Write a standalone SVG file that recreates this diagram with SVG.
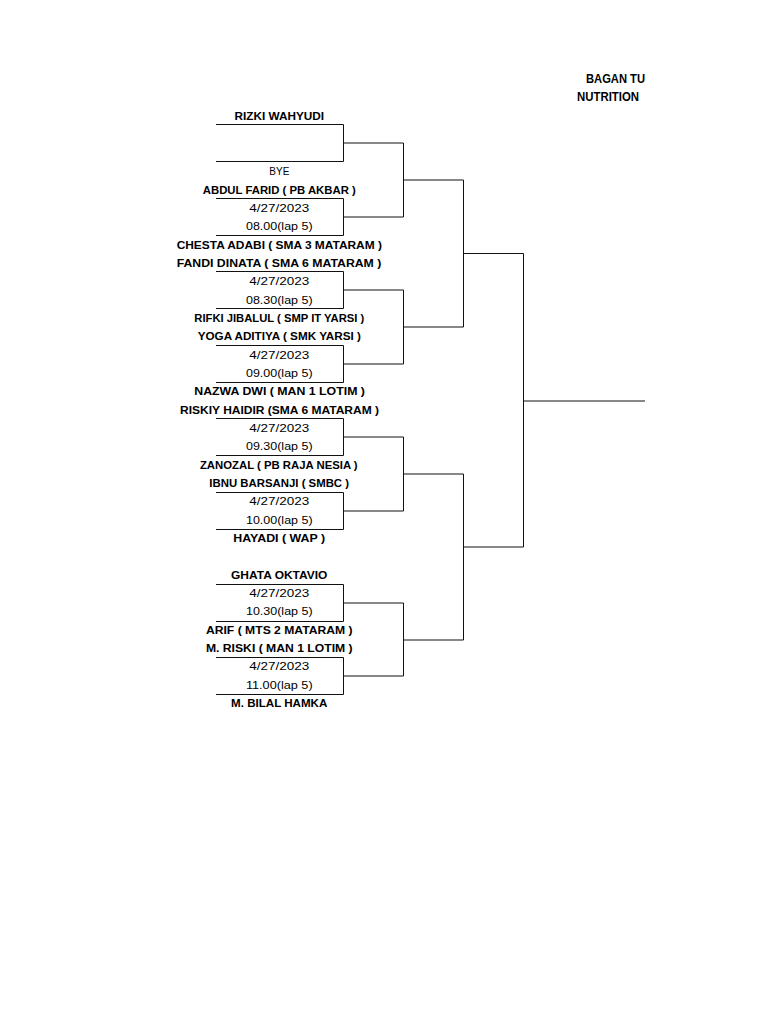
<svg xmlns="http://www.w3.org/2000/svg" width="768" height="1024" viewBox="0 0 768 1024">
<style>
.b{font-family:"Liberation Sans",Arial,sans-serif;font-weight:bold;font-size:11.3px;fill:#000;text-anchor:middle}
.r{font-family:"Liberation Sans",Arial,sans-serif;font-size:11.3px;fill:#000;text-anchor:middle}
.t{font-family:"Liberation Sans",Arial,sans-serif;font-weight:bold;font-size:12px;fill:#000}
.ln{fill:none;stroke:#111;stroke-width:1}
</style>
<rect width="768" height="1024" fill="#fff"/>
<g id="title">
<text class="t" x="586" y="83.3" textLength="59" lengthAdjust="spacingAndGlyphs">BAGAN TU</text>
<text class="t" x="577" y="101.3" textLength="62" lengthAdjust="spacingAndGlyphs">NUTRITION</text>
</g>
<g id="connectors" class="ln">
<path d="M216,124.5H343.5V161.5H216M343.5,143H403.5"/>
<path d="M216,198.5H343.5V235.5H216M343.5,217H403.5"/>
<path d="M216,271.5H343.5V308.5H216M343.5,290H403.5"/>
<path d="M216,345.5H343.5V382.5H216M343.5,364H403.5"/>
<path d="M216,418.5H343.5V455.5H216M343.5,437H403.5"/>
<path d="M216,492.5H343.5V529.5H216M343.5,511H403.5"/>
<path d="M216,584.5H343.5V621.5H216M343.5,603H403.5"/>
<path d="M216,657.5H343.5V694.5H216M343.5,676H403.5"/>
<path d="M403.5,143V217M403.5,180H463.5"/>
<path d="M403.5,290V364M403.5,327H463.5"/>
<path d="M403.5,437V511M403.5,474H463.5"/>
<path d="M403.5,603V676M403.5,640H463.5"/>
<path d="M463.5,180V327M463.5,253.5H523.5"/>
<path d="M463.5,474V640M463.5,547H523.5"/>
<path d="M523.5,253.5V547M523.5,401H645"/>
</g>
<g id="match1">
<text class="b" x="279.3" y="120.1" textLength="89.7" lengthAdjust="spacingAndGlyphs">RIZKI WAHYUDI</text>
<text class="r" x="279.3" y="175.1" textLength="20" lengthAdjust="spacingAndGlyphs">BYE</text>
</g>
<g id="match2">
<text class="b" x="279.3" y="193.5" textLength="153" lengthAdjust="spacingAndGlyphs">ABDUL FARID ( PB AKBAR )</text>
<text class="r" x="279.3" y="211.8" textLength="60" lengthAdjust="spacingAndGlyphs">4/27/2023</text>
<text class="r" x="279.3" y="230.1" textLength="66.7" lengthAdjust="spacingAndGlyphs">08.00(lap 5)</text>
<text class="b" x="279.3" y="248.5" textLength="205.3" lengthAdjust="spacingAndGlyphs">CHESTA ADABI ( SMA 3 MATARAM )</text>
</g>
<g id="match3">
<text class="b" x="279" y="266.8" textLength="204.7" lengthAdjust="spacingAndGlyphs">FANDI DINATA ( SMA 6 MATARAM )</text>
<text class="r" x="279.3" y="285.2" textLength="60" lengthAdjust="spacingAndGlyphs">4/27/2023</text>
<text class="r" x="279.3" y="303.5" textLength="66.7" lengthAdjust="spacingAndGlyphs">08.30(lap 5)</text>
<text class="b" x="279.3" y="321.8" textLength="170" lengthAdjust="spacingAndGlyphs">RIFKI JIBALUL ( SMP IT YARSI )</text>
</g>
<g id="match4">
<text class="b" x="279.3" y="340.2" textLength="163.3" lengthAdjust="spacingAndGlyphs">YOGA ADITIYA ( SMK YARSI )</text>
<text class="r" x="279.3" y="358.5" textLength="60" lengthAdjust="spacingAndGlyphs">4/27/2023</text>
<text class="r" x="279.3" y="376.9" textLength="66.7" lengthAdjust="spacingAndGlyphs">09.00(lap 5)</text>
<text class="b" x="279.6" y="395.2" textLength="170.7" lengthAdjust="spacingAndGlyphs">NAZWA DWI ( MAN 1 LOTIM )</text>
</g>
<g id="match5">
<text class="b" x="279.5" y="413.5" textLength="199" lengthAdjust="spacingAndGlyphs">RISKIY HAIDIR (SMA 6 MATARAM )</text>
<text class="r" x="279.3" y="431.9" textLength="60" lengthAdjust="spacingAndGlyphs">4/27/2023</text>
<text class="r" x="279.3" y="450.2" textLength="66.7" lengthAdjust="spacingAndGlyphs">09.30(lap 5)</text>
<text class="b" x="278.8" y="468.6" textLength="157.7" lengthAdjust="spacingAndGlyphs">ZANOZAL ( PB RAJA NESIA )</text>
</g>
<g id="match6">
<text class="b" x="279.2" y="486.9" textLength="139.7" lengthAdjust="spacingAndGlyphs">IBNU BARSANJI ( SMBC )</text>
<text class="r" x="279.3" y="505.2" textLength="60" lengthAdjust="spacingAndGlyphs">4/27/2023</text>
<text class="r" x="279.3" y="523.6" textLength="66.7" lengthAdjust="spacingAndGlyphs">10.00(lap 5)</text>
<text class="b" x="279.2" y="541.9" textLength="91.7" lengthAdjust="spacingAndGlyphs">HAYADI ( WAP )</text>
</g>
<g id="match7">
<text class="b" x="279.2" y="578.6" textLength="96.3" lengthAdjust="spacingAndGlyphs">GHATA OKTAVIO</text>
<text class="r" x="279.3" y="596.9" textLength="60" lengthAdjust="spacingAndGlyphs">4/27/2023</text>
<text class="r" x="279.3" y="615.3" textLength="66.7" lengthAdjust="spacingAndGlyphs">10.30(lap 5)</text>
<text class="b" x="279.3" y="633.6" textLength="146.7" lengthAdjust="spacingAndGlyphs">ARIF ( MTS 2 MATARAM )</text>
</g>
<g id="match8">
<text class="b" x="279.3" y="652" textLength="146.7" lengthAdjust="spacingAndGlyphs">M. RISKI ( MAN 1 LOTIM )</text>
<text class="r" x="279.3" y="670.3" textLength="60" lengthAdjust="spacingAndGlyphs">4/27/2023</text>
<text class="r" x="279.3" y="688.6" textLength="66.7" lengthAdjust="spacingAndGlyphs">11.00(lap 5)</text>
<text class="b" x="279.2" y="707" textLength="96.3" lengthAdjust="spacingAndGlyphs">M. BILAL HAMKA</text>
</g>
</svg>
